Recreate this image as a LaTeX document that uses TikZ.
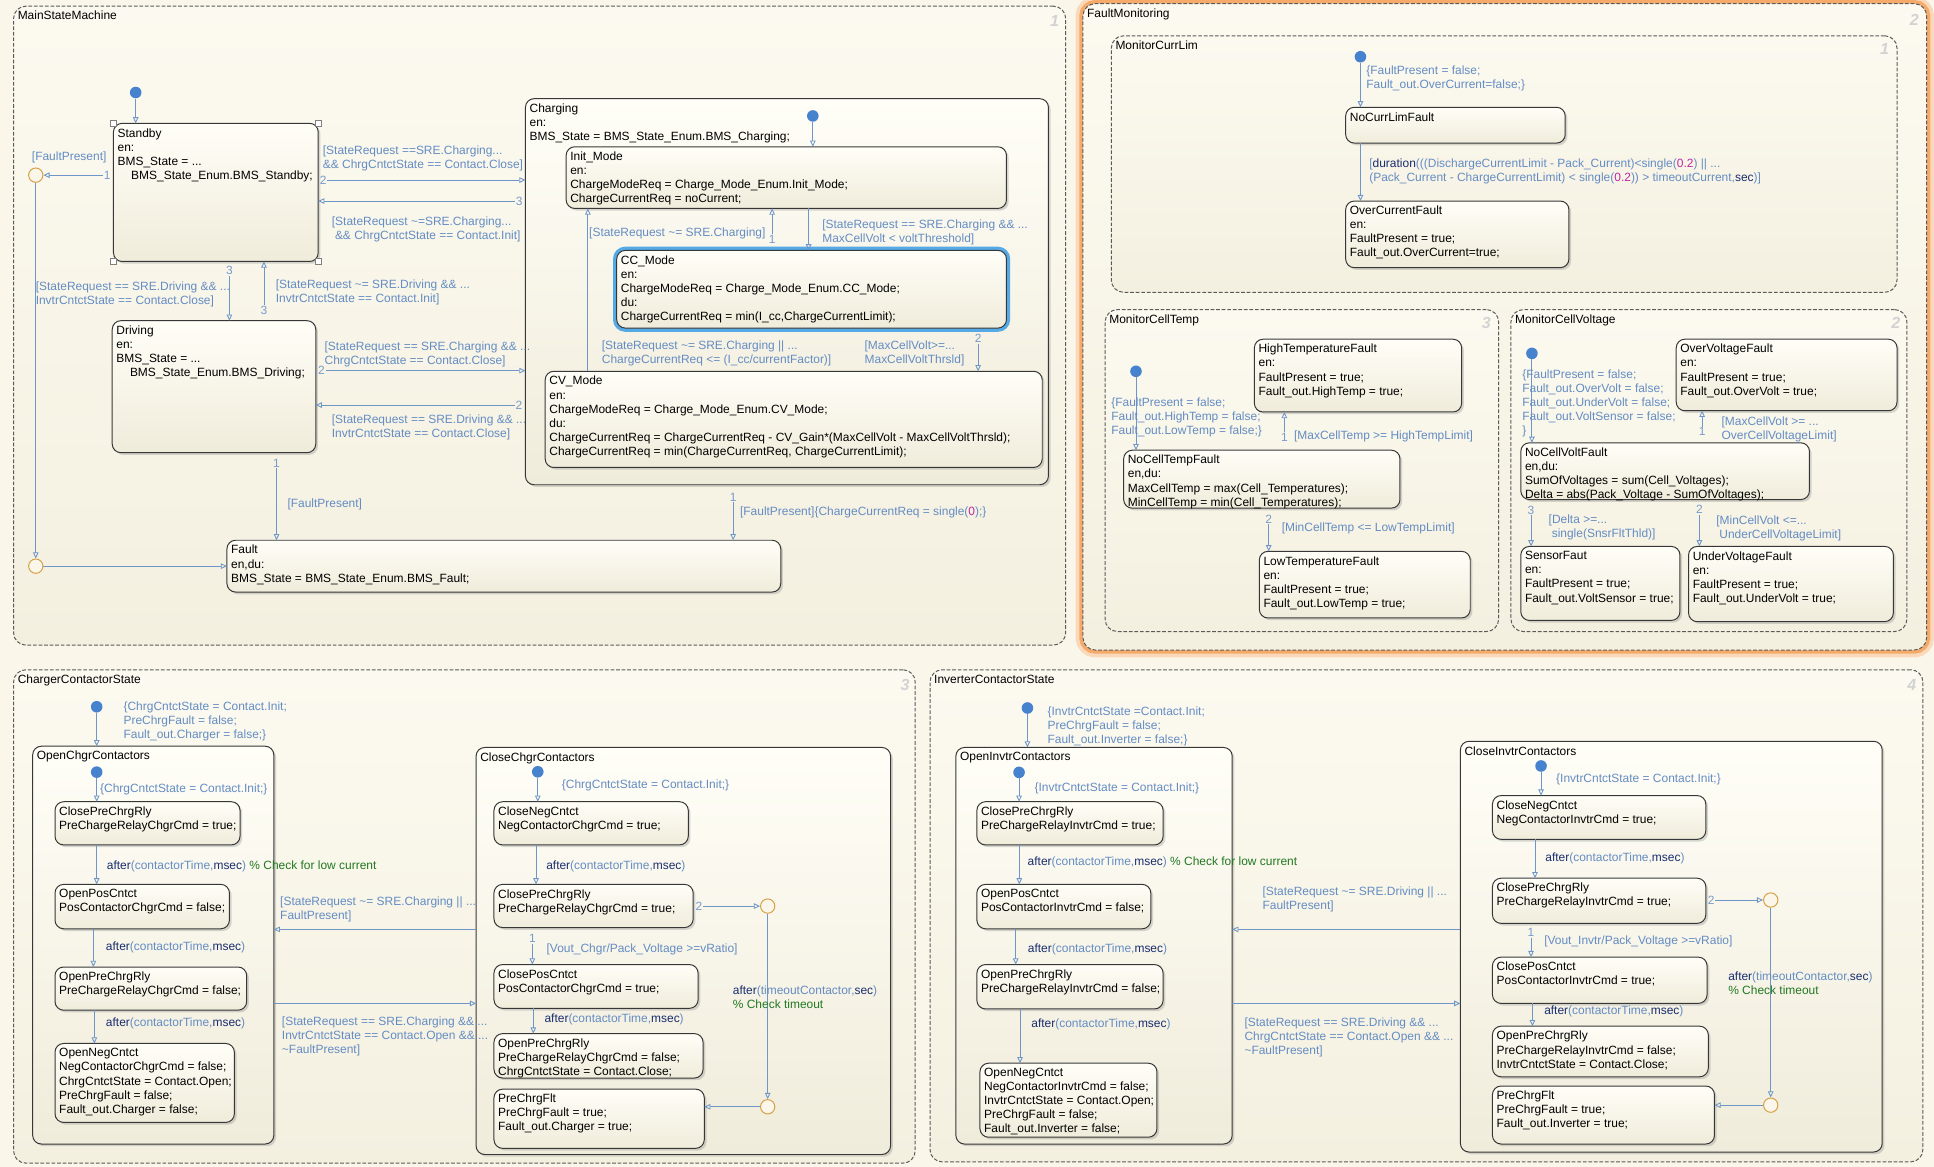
\documentclass[tikz,border=0pt]{standalone}
\usepackage{fontspec}
\setmainfont{Liberation Sans}
\usetikzlibrary{arrows.meta,shadows}
\definecolor{bgcol}{RGB}{250,247,234}
\definecolor{chTop}{RGB}{252,250,240}
\definecolor{chBot}{RGB}{244,240,224}
\definecolor{chline}{RGB}{90,90,90}
\definecolor{stTop}{RGB}{255,254,247}
\definecolor{stBot}{RGB}{240,236,219}
\definecolor{stline}{RGB}{55,55,55}
\definecolor{trcol}{RGB}{110,150,200}
\definecolor{lblcol}{RGB}{100,140,195}
\definecolor{ordcol}{RGB}{120,155,205}
\definecolor{kwcol}{RGB}{25,45,110}
\definecolor{cmtcol}{RGB}{34,120,34}
\definecolor{nmbcol}{RGB}{190,40,160}
\definecolor{dotcol}{RGB}{70,130,205}
\definecolor{junccol}{RGB}{215,160,70}
\definecolor{glowcol}{RGB}{85,170,230}
\definecolor{orglow}{RGB}{245,170,105}
\newcommand{\sfsize}{\fontsize{9.7}{11.4}\selectfont}
\newcommand{\kw}[1]{\textcolor{kwcol}{#1}}
\newcommand{\cmt}[1]{\textcolor{cmtcol}{#1}}
\newcommand{\nmb}[1]{\textcolor{nmbcol}{#1}}
\newcommand{\tld}{\textasciitilde}
\newcommand{\aftermsec}{\kw{after}(contactorTime,\kw{msec})}
% state box: [style]{name}{x1}{y1}{x2}{y2}{text}
\newcommand{\sfstate}[7][stbox]{%
  \node[#1,minimum width={(#5-#3)*1pt},minimum height={(#6-#4)*1pt},anchor=north west] (#2) at (#3,#4) {};
  \node[sttext] (#2-txt) at (#2.north west) {#7};}
% transition label: {name}{x}{y of first line}{text}
\newcommand{\tlabel}[4]{\node[lbl] (#1) at (#2,#3-3.6) {#4};}

\begin{document}
\begin{tikzpicture}[x=1pt, y=-1pt,
    every node/.style={font=\sfsize},
    stbox/.style={draw=stline, line width=0.8pt, rounded corners=7pt, inner sep=0pt, outer sep=0pt,
      top color=stTop, bottom color=stBot,
      drop shadow={opacity=0.3, shadow xshift=1.8pt, shadow yshift=-1.8pt}},
    active/.style={preaction={draw=glowcol, line width=6pt}},
    chart/.style={draw=chline, line width=0.8pt, dash pattern=on 3pt off 1.5pt, rounded corners=10pt,
      inner sep=0pt, outer sep=0pt, top color=chTop, bottom color=chBot},
    selected/.style={preaction={draw=orglow!45, solid, line width=12pt},
      preaction={draw=orglow, solid, line width=6pt}},
    sttext/.style={anchor=north west, inner xsep=3.2pt, inner ysep=3.9pt, align=left, text=black},
    lbl/.style={anchor=north west, inner sep=0pt, align=left, text=lblcol},
    ord/.style={inner sep=0.6pt, text=ordcol},
    initdot/.style={circle, fill=dotcol, minimum size=9.4pt, inner sep=0pt},
    junc/.style={circle, draw=junccol, line width=0.8pt, fill=bgcol, minimum size=11.6pt, inner sep=0pt},
    handle/.style={draw=gray, fill=white, minimum size=4.5pt, inner sep=0pt, line width=0.5pt},
    chnum/.style={font=\fontsize{13}{15}\selectfont\bfseries\itshape, text=gray!35},
    tr/.style={draw=trcol, line width=0.7pt, -{Triangle[open, length=5pt, width=4.5pt]}}
  ]
  \useasboundingbox (0,0) rectangle (1568,946);
  \fill[bgcol] (0,0) rectangle (1568,946);

  % ---------------- MainStateMachine ----------------
  \sfstate[chart]{MainSM}{11}{5}{864}{523}{MainStateMachine}
  \node[chnum] (MainSM-num) at (855,17) {1};
  \sfstate{Standby}{92}{100}{258}{212}{Standby\\en:\\BMS\_State = ...\\\hspace*{11pt}BMS\_State\_Enum.BMS\_Standby;}
  \foreach \c in {north west,north east,south west,south east}
    \node[handle] (Stby-\c) at (Standby.\c) {};
  \sfstate{Driving}{91}{260}{256}{367}{Driving\\en:\\BMS\_State = ...\\\hspace*{11pt}BMS\_State\_Enum.BMS\_Driving;}
  \sfstate{Charging}{426}{80}{850}{393}{Charging\\en:\\BMS\_State = BMS\_State\_Enum.BMS\_Charging;}
  \sfstate{InitMode}{459}{119}{816}{169}{Init\_Mode\\en:\\ChargeModeReq = Charge\_Mode\_Enum.Init\_Mode;\\ChargeCurrentReq = noCurrent;}
  \sfstate[stbox,active]{CCMode}{500}{203}{816}{266}{CC\_Mode\\en:\\ChargeModeReq = Charge\_Mode\_Enum.CC\_Mode;\\du:\\ChargeCurrentReq = min(I\_cc,ChargeCurrentLimit);}
  \sfstate{CVMode}{442}{301}{845}{379}{CV\_Mode\\en:\\ChargeModeReq = Charge\_Mode\_Enum.CV\_Mode;\\du:\\ChargeCurrentReq = ChargeCurrentReq - CV\_Gain*(MaxCellVolt - MaxCellVoltThrsld);\\ChargeCurrentReq = min(ChargeCurrentReq, ChargeCurrentLimit);}
  \sfstate{Fault}{184}{438}{633}{480}{Fault\\en,du:\\BMS\_State = BMS\_State\_Enum.BMS\_Fault;}

  \node[initdot] (StbyInit) at (110,75) {};
  \node[initdot] (ChgInit) at (659,94) {};
  \node[junc] (JF1) at (29,142) {};
  \node[junc] (JF2) at (29,459) {};

  \draw[tr] (StbyInit) -- (Standby.north -| StbyInit);
  \node[ord] (o11) at (87,142) {1};
  \draw[tr] (o11) -- (JF1);
  \draw[tr] (JF1) -- (JF2);
  \draw[tr] (JF2) -- (Fault.west |- JF2);
  \node[ord] (o12) at (262,146) {2};
  \draw[tr] (o12) -- (Charging.west |- o12);
  \node[ord] (o13) at (421,163) {3};
  \draw[tr] (o13) -- (Standby.east |- o13);
  \node[ord] (o14) at (186,219.5) {3};
  \draw[tr] (o14) -- (Driving.north -| o14);
  \node[ord] (o15) at (214,251.5) {3};
  \draw[tr] (o15) -- (Standby.south -| o15);
  \node[ord] (o16) at (260.6,300.5) {2};
  \draw[tr] (o16) -- (Charging.west |- o16);
  \node[ord] (o17) at (420.7,328.4) {2};
  \draw[tr] (o17) -- (Driving.east |- o17);
  \node[ord] (o18) at (224.2,375.6) {1};
  \draw[tr] (o18) -- (Fault.north -| o18);
  \node[ord] (o19) at (594.4,403) {1};
  \draw[tr] (o19) -- (Fault.north -| o19);
  \draw[tr] (ChgInit) -- (InitMode.north -| ChgInit);
  \draw[tr] (CVMode.north -| 476.6,0) -- (InitMode.south -| 476.6,0);
  \node[ord] (o1a) at (626,194) {1};
  \draw[tr] (o1a) -- (InitMode.south -| o1a);
  \draw[tr] (InitMode.south -| 655.6,0) -- (CCMode.north -| 655.6,0);
  \node[ord] (o1b) at (793,274.3) {2};
  \draw[tr] (o1b) -- (CVMode.north -| o1b);

  \tlabel{lFlt1}{25.7}{126.5}{[FaultPresent]}
  \tlabel{lStCh}{261.6}{121.6}{[StateRequest ==SRE.Charging...\\\&\& ChrgCntctState == Contact.Close]}
  \tlabel{lChSt}{268.9}{179.2}{[StateRequest \tld=SRE.Charging...\\\hspace*{2.5pt}\&\& ChrgCntctState == Contact.Init]}
  \tlabel{lStDr}{28.8}{231.9}{[StateRequest == SRE.Driving \&\& ...\\InvtrCntctState == Contact.Close]}
  \tlabel{lDrSt}{223.4}{230.3}{[StateRequest \tld= SRE.Driving \&\& ...\\InvtrCntctState == Contact.Init]}
  \tlabel{lDrCh}{263}{280.5}{[StateRequest == SRE.Charging \&\& ...\\ChrgCntctState == Contact.Close]}
  \tlabel{lChDr}{268.9}{339.7}{[StateRequest == SRE.Driving \&\& ...\\InvtrCntctState == Contact.Close]}
  \tlabel{lFlt2}{232.9}{408.1}{[FaultPresent]}
  \tlabel{lFlt3}{599.8}{414}{[FaultPresent]\{ChargeCurrentReq = single(\nmb{0});\}}
  \tlabel{lCvIn}{477.5}{188.1}{[StateRequest \tld= SRE.Charging]}
  \tlabel{lInCc}{666.5}{181.6}{[StateRequest == SRE.Charging \&\& ...\\MaxCellVolt < voltThreshold]}
  \tlabel{lCcIn}{487.8}{279.7}{[StateRequest \tld= SRE.Charging || ...\\ChargeCurrentReq <= (I\_cc/currentFactor)]}
  \tlabel{lCcCv}{700.8}{279.7}{[MaxCellVolt>=...\\MaxCellVoltThrsld]}

  % ---------------- FaultMonitoring ----------------
  \sfstate[chart,selected]{FaultMon}{878}{3}{1562}{527}{FaultMonitoring}
  \node[chnum] (FaultMon-num) at (1552,16) {2};
  \sfstate[chart]{MonCurr}{901}{29}{1538}{237}{MonitorCurrLim}
  \node[chnum] (MonCurr-num) at (1528,40) {1};
  \sfstate{NoCurrLim}{1091}{87}{1269}{116}{NoCurrLimFault}
  \sfstate{OverCurr}{1091}{163}{1272}{217}{OverCurrentFault\\en:\\FaultPresent = true;\\Fault\_out.OverCurrent=true;}
  \sfstate[chart]{MonTemp}{896}{251}{1215}{512}{MonitorCellTemp}
  \node[chnum] (MonTemp-num) at (1205,262) {3};
  \sfstate{NoCellTemp}{911}{365}{1135}{412}{NoCellTempFault\\en,du:\\MaxCellTemp = max(Cell\_Temperatures);\\MinCellTemp = min(Cell\_Temperatures);}
  \sfstate{HighTemp}{1017}{275}{1185}{334}{HighTemperatureFault\\en:\\FaultPresent = true;\\Fault\_out.HighTemp = true;}
  \sfstate{LowTemp}{1021}{447}{1192}{501}{LowTemperatureFault\\en:\\FaultPresent = true;\\Fault\_out.LowTemp = true;}
  \sfstate[chart]{MonVolt}{1225}{251}{1546}{512}{MonitorCellVoltage}
  \node[chnum] (MonVolt-num) at (1537,262) {2};
  \sfstate{NoCellVolt}{1233}{359}{1467}{405}{NoCellVoltFault\\en,du:\\SumOfVoltages = sum(Cell\_Voltages);\\Delta = abs(Pack\_Voltage - SumOfVoltages);}
  \sfstate{OverVolt}{1359}{275}{1538}{333}{OverVoltageFault\\en:\\FaultPresent = true;\\Fault\_out.OverVolt = true;}
  \sfstate{SensorF}{1233}{443}{1362}{503}{SensorFaut\\en:\\FaultPresent = true;\\Fault\_out.VoltSensor = true;}
  \sfstate{UnderVolt}{1369}{443}{1535}{504}{UnderVoltageFault\\en:\\FaultPresent = true;\\Fault\_out.UnderVolt = true;}

  \node[initdot] (CurrInit) at (1103,46) {};
  \node[initdot] (TempInit) at (921,301) {};
  \node[initdot] (VoltInit) at (1242,286.5) {};
  \draw[tr] (CurrInit) -- (NoCurrLim.north -| CurrInit);
  \draw[tr] (NoCurrLim.south -| CurrInit) -- (OverCurr.north -| CurrInit);
  \draw[tr] (TempInit) -- (NoCellTemp.north -| TempInit);
  \node[ord] (o21) at (1041.3,354.6) {1};
  \draw[tr] (o21) -- (HighTemp.south -| o21);
  \node[ord] (o22) at (1028.6,420.8) {2};
  \draw[tr] (o22) -- (LowTemp.north -| o22);
  \draw[tr] (VoltInit) -- (NoCellVolt.north -| VoltInit);
  \node[ord] (o23) at (1380,350) {1};
  \draw[tr] (o23) -- (OverVolt.south -| o23);
  \node[ord] (o24) at (1241.3,413.5) {3};
  \draw[tr] (o24) -- (SensorF.north -| o24);
  \node[ord] (o25) at (1377.8,413) {2};
  \draw[tr] (o25) -- (UnderVolt.north -| o25);

  \tlabel{lCurr0}{1107.6}{56.8}{\{FaultPresent = false;\\Fault\_out.OverCurrent=false;\}}
  \tlabel{lCurr1}{1110}{132.4}{[\kw{duration}(((DischargeCurrentLimit - Pack\_Current)<single(\nmb{0.2}) || ...\\(Pack\_Current - ChargeCurrentLimit) < single(\nmb{0.2})) > timeoutCurrent,\kw{sec})]}
  \tlabel{lTemp0}{900.8}{325.7}{\{FaultPresent = false;\\Fault\_out.HighTemp = false;\\Fault\_out.LowTemp = false;\}}
  \tlabel{lTemp1}{1049}{352.7}{[MaxCellTemp >= HighTempLimit]}
  \tlabel{lTemp2}{1039}{427.5}{[MinCellTemp <= LowTempLimit]}
  \tlabel{lVolt0}{1234}{303.2}{\{FaultPresent = false;\\Fault\_out.OverVolt = false;\\Fault\_out.UnderVolt = false;\\Fault\_out.VoltSensor = false;\\\}}
  \tlabel{lVolt1}{1395.6}{341}{[MaxCellVolt >= ...\\OverCellVoltageLimit]}
  \tlabel{lVolt3}{1255.4}{420.5}{[Delta >=...\\\hspace*{2.5pt}single(SnsrFltThld)]}
  \tlabel{lVolt2}{1391.3}{421.6}{[MinCellVolt <=...\\\hspace*{2.5pt}UnderCellVoltageLimit]}

  % ---------------- ChargerContactorState ----------------
  \sfstate[chart]{ChgrCS}{11}{543}{742}{943}{ChargerContactorState}
  \node[chnum] (ChgrCS-num) at (733.7,555) {3};
  \sfstate{OpenChgr}{26.5}{605}{222}{927.5}{OpenChgrContactors}
  \sfstate{CPreC}{44.6}{650}{194.6}{685}{ClosePreChrgRly\\PreChargeRelayChgrCmd = true;}
  \sfstate{OPosC}{44.6}{717}{186}{753}{OpenPosCntct\\PosContactorChgrCmd = false;}
  \sfstate{OPreC}{44.6}{784}{200}{819}{OpenPreChrgRly\\PreChargeRelayChgrCmd = false;}
  \sfstate{ONegC}{44.6}{846}{190}{910}{OpenNegCntct\\NegContactorChgrCmd = false;\\ChrgCntctState = Contact.Open;\\PreChrgFault = false;\\Fault\_out.Charger = false;}
  \sfstate{CloseChgr}{386}{606}{722}{936}{CloseChgrContactors}
  \sfstate{CNegC}{400.5}{650}{558}{685}{CloseNegCntct\\NegContactorChgrCmd = true;}
  \sfstate{CPre2C}{400.5}{717}{562}{752}{ClosePreChrgRly\\PreChargeRelayChgrCmd = true;}
  \sfstate{CPosC}{400.5}{782}{566}{817.5}{ClosePosCntct\\PosContactorChgrCmd = true;}
  \sfstate{OPre2C}{400.5}{838}{570}{874}{OpenPreChrgRly\\PreChargeRelayChgrCmd = false;\\ChrgCntctState = Contact.Close;}
  \sfstate{PFltC}{400.5}{883}{571}{931}{PreChrgFlt\\PreChrgFault = true;\\Fault\_out.Charger = true;}

  \node[initdot] (ChgrInit) at (78.4,573) {};
  \node[initdot] (OpenChgrInit) at (78.4,626) {};
  \node[initdot] (CloseChgrInit) at (436,625.7) {};
  \node[junc] (JC1) at (622.4,734.6) {};
  \node[junc] (JC2) at (622.4,897.3) {};
  \draw[tr] (ChgrInit) -- (OpenChgr.north -| ChgrInit);
  \draw[tr] (OpenChgrInit) -- (CPreC.north -| OpenChgrInit);
  \draw[tr] (CPreC.south -| 78.4,0) -- (OPosC.north -| 78.4,0);
  \draw[tr] (OPosC.south -| 75.7,0) -- (OPreC.north -| 75.7,0);
  \draw[tr] (OPreC.south -| 76.5,0) -- (ONegC.north -| 76.5,0);
  \draw[tr] (CloseChgr.west |- 0,753.5) -- (OpenChgr.east |- 0,753.5);
  \draw[tr] (OpenChgr.east |- 0,813.5) -- (CloseChgr.west |- 0,813.5);
  \draw[tr] (CloseChgrInit) -- (CNegC.north -| CloseChgrInit);
  \draw[tr] (CNegC.south -| 434.6,0) -- (CPre2C.north -| 434.6,0);
  \node[ord] (o31) at (566.7,734.6) {2};
  \draw[tr] (o31) -- (JC1);
  \draw[tr] (JC1) -- (JC2);
  \draw[tr] (JC2) -- (PFltC.east |- JC2);
  \node[ord] (o32) at (431.6,760.8) {1};
  \draw[tr] (o32) -- (CPosC.north -| o32);
  \draw[tr] (CPosC.south -| 432.4,0) -- (OPre2C.north -| 432.4,0);

  \tlabel{lChgr0}{100}{572.4}{\{ChrgCntctState = Contact.Init;\\PreChrgFault = false;\\Fault\_out.Charger = false;\}}
  \tlabel{lChgr1}{81}{639}{\{ChrgCntctState = Contact.Init;\}}
  \tlabel{lChgr2}{86.5}{701.3}{\aftermsec{} \cmt{\% Check for low current}}
  \tlabel{lChgr3}{85.7}{767}{\aftermsec}
  \tlabel{lChgr4}{85.7}{828.6}{\aftermsec}
  \tlabel{lChgr5}{227}{730.5}{[StateRequest \tld= SRE.Charging || ...\\FaultPresent]}
  \tlabel{lChgr6}{228.4}{827.8}{[StateRequest == SRE.Charging \&\& ...\\InvtrCntctState == Contact.Open \&\& ...\\\tld FaultPresent]}
  \tlabel{lChgr7}{455.4}{635.6}{\{ChrgCntctState = Contact.Init;\}}
  \tlabel{lChgr8}{442.7}{701.3}{\aftermsec}
  \tlabel{lChgr9}{443}{768.3}{[Vout\_Chgr/Pack\_Voltage >=vRatio]}
  \tlabel{lChgr10}{441.3}{825.1}{\aftermsec}
  \tlabel{lChgr11}{594}{802.7}{\kw{after}(timeoutContactor,\kw{sec})\\\cmt{\% Check timeout}}

  % ---------------- InverterContactorState ----------------
  \sfstate[chart]{InvCS}{754}{543}{1559}{942}{InverterContactorState}
  \node[chnum] (InvCS-num) at (1550,555) {4};
  \sfstate{OpenInv}{775}{606}{999}{927.5}{OpenInvtrContactors}
  \sfstate{CPreI}{792}{650}{943}{685}{ClosePreChrgRly\\PreChargeRelayInvtrCmd = true;}
  \sfstate{OPosI}{792}{717}{933}{753}{OpenPosCntct\\PosContactorInvtrCmd = false;}
  \sfstate{OPreI}{792}{782}{943}{818}{OpenPreChrgRly\\PreChargeRelayInvtrCmd = false;}
  \sfstate{ONegI}{794.5}{862}{938}{922}{OpenNegCntct\\NegContactorInvtrCmd = false;\\InvtrCntctState = Contact.Open;\\PreChrgFault = false;\\Fault\_out.Inverter = false;}
  \sfstate{CloseInv}{1184}{601}{1526}{934}{CloseInvtrContactors}
  \sfstate{CNegI}{1210}{645}{1383}{680.5}{CloseNegCntct\\NegContactorInvtrCmd = true;}
  \sfstate{CPre2I}{1210}{712}{1383}{748.6}{ClosePreChrgRly\\PreChargeRelayInvtrCmd = true;}
  \sfstate{CPosI}{1210}{776}{1384}{813.5}{ClosePosCntct\\PosContactorInvtrCmd = true;}
  \sfstate{OPre2I}{1210}{832}{1385}{873}{OpenPreChrgRly\\PreChargeRelayInvtrCmd = false;\\InvtrCntctState = Contact.Close;}
  \sfstate{PFltI}{1210}{880.5}{1390}{927.5}{PreChrgFlt\\PreChrgFault = true;\\Fault\_out.Inverter = true;}

  \node[initdot] (InvInit) at (833,574) {};
  \node[initdot] (OpenInvInit) at (826.2,626.2) {};
  \node[initdot] (CloseInvInit) at (1249.4,621) {};
  \node[junc] (JI1) at (1435.6,729.7) {};
  \node[junc] (JI2) at (1435.6,896) {};
  \draw[tr] (InvInit) -- (OpenInv.north -| InvInit);
  \draw[tr] (OpenInvInit) -- (CPreI.north -| OpenInvInit);
  \draw[tr] (CPreI.south -| 826.4,0) -- (OPosI.north -| 826.4,0);
  \draw[tr] (OPosI.south -| 823.5,0) -- (OPreI.north -| 823.5,0);
  \draw[tr] (OPreI.south -| 827,0) -- (ONegI.north -| 827,0);
  \draw[tr] (CloseInv.west |- 0,753.5) -- (OpenInv.east |- 0,753.5);
  \draw[tr] (OpenInv.east |- 0,813.5) -- (CloseInv.west |- 0,813.5);
  \draw[tr] (CloseInvInit) -- (CNegI.north -| CloseInvInit);
  \draw[tr] (CNegI.south -| 1244.5,0) -- (CPre2I.north -| 1244.5,0);
  \node[ord] (o41) at (1387.3,729.7) {2};
  \draw[tr] (o41) -- (JI1);
  \draw[tr] (JI1) -- (JI2);
  \draw[tr] (JI2) -- (PFltI.east |- JI2);
  \node[ord] (o42) at (1241.3,756.2) {1};
  \draw[tr] (o42) -- (CPosI.north -| o42);
  \draw[tr] (CPosI.south -| 1242.4,0) -- (OPre2I.north -| 1242.4,0);

  \tlabel{lInv0}{849.1}{576.5}{\{InvtrCntctState =Contact.Init;\\PreChrgFault = false;\\Fault\_out.Inverter = false;\}}
  \tlabel{lInv1}{838.6}{638}{\{InvtrCntctState = Contact.Init;\}}
  \tlabel{lInv2}{833}{698}{\aftermsec{} \cmt{\% Check for low current}}
  \tlabel{lInv3}{833.2}{768.3}{\aftermsec}
  \tlabel{lInv4}{836}{829.2}{\aftermsec}
  \tlabel{lInv5}{1023.4}{722.4}{[StateRequest \tld= SRE.Driving || ...\\FaultPresent]}
  \tlabel{lInv6}{1008.8}{828.4}{[StateRequest == SRE.Driving \&\& ...\\ChrgCntctState == Contact.Open \&\& ...\\\tld FaultPresent]}
  \tlabel{lInv7}{1261.5}{630.8}{\{InvtrCntctState = Contact.Init;\}}
  \tlabel{lInv8}{1252.7}{695}{\aftermsec}
  \tlabel{lInv9}{1251.8}{762.1}{[Vout\_Invtr/Pack\_Voltage >=vRatio]}
  \tlabel{lInv10}{1251.8}{818.9}{\aftermsec}
  \tlabel{lInv11}{1401}{791.3}{\kw{after}(timeoutContactor,\kw{sec})\\\cmt{\% Check timeout}}
\end{tikzpicture}
\end{document}
